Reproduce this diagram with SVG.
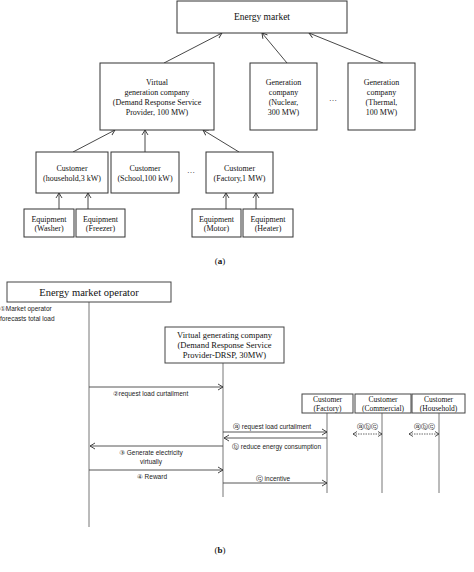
<svg xmlns="http://www.w3.org/2000/svg" width="474" height="572" viewBox="0 0 474 572">
<style>
.box{fill:#fff;stroke:#333;stroke-width:1}
.bx2{fill:#fff;stroke:#444;stroke-width:1}
.s{font-family:"Liberation Serif","DejaVu Serif",serif;fill:#111;text-anchor:middle}
.a{font-size:8px}
.ss{font-family:"Liberation Sans","DejaVu Sans",sans-serif;fill:#222;font-size:6.5px}
.ln{stroke:#333;stroke-width:0.9;fill:none}
.ll{stroke:#777;stroke-width:1;fill:none}
.ar{stroke:#444;stroke-width:0.9;fill:none}
.dsh{stroke:#444;stroke-width:0.8;fill:none;stroke-dasharray:1.5,1}
</style>
<defs>
<marker id="h" markerWidth="8" markerHeight="8" refX="6" refY="4" orient="auto" markerUnits="userSpaceOnUse">
<path d="M1,1 L6,4 L1,7" fill="none" stroke="#333" stroke-width="0.9"/>
</marker>
<marker id="hs" markerWidth="8" markerHeight="8" refX="6" refY="4" orient="auto-start-reverse" markerUnits="userSpaceOnUse">
<path d="M2,1.5 L6,4 L2,6.5" fill="none" stroke="#333" stroke-width="0.8"/>
</marker>
</defs>

<g id="connectors">
<line class="ln" x1="164" y1="63" x2="222" y2="33" marker-end="url(#h)"/>
<line class="ln" x1="287" y1="63" x2="262" y2="33" marker-end="url(#h)"/>
<line class="ln" x1="383" y1="63" x2="309" y2="33" marker-end="url(#h)"/>
<line class="ln" x1="73" y1="152" x2="115" y2="130" marker-end="url(#h)"/>
<line class="ln" x1="145" y1="152" x2="145" y2="130" marker-end="url(#h)"/>
<line class="ln" x1="239" y1="152" x2="203" y2="130" marker-end="url(#h)"/>
<line class="ln" x1="59" y1="209" x2="59" y2="193" marker-end="url(#h)"/>
<line class="ln" x1="88" y1="209" x2="88" y2="193" marker-end="url(#h)"/>
<line class="ln" x1="226" y1="209" x2="226" y2="193" marker-end="url(#h)"/>
<line class="ln" x1="256" y1="209" x2="256" y2="193" marker-end="url(#h)"/>
<line class="ll" x1="89" y1="302" x2="89" y2="527"/>
<line class="ll" x1="223" y1="363" x2="223" y2="497"/>
<line class="ll" x1="327" y1="413" x2="327" y2="493"/>
<line class="ll" x1="382" y1="413" x2="382" y2="493"/>
<line class="ll" x1="439" y1="413" x2="439" y2="493"/>
<line class="ar" x1="89" y1="387" x2="223" y2="387" marker-end="url(#h)"/>
<line class="ar" x1="223" y1="432" x2="327" y2="432" marker-end="url(#h)"/>
<line class="ar" x1="327" y1="438" x2="224" y2="438" marker-end="url(#h)"/>
<line class="ar" x1="223" y1="446" x2="90" y2="446" marker-end="url(#h)"/>
<line class="ar" x1="89" y1="470" x2="223" y2="470" marker-end="url(#h)"/>
<line class="ar" x1="223" y1="483" x2="327" y2="483" marker-end="url(#h)"/>
<line class="dsh" x1="353" y1="434" x2="382" y2="434" marker-start="url(#hs)" marker-end="url(#hs)"/>
<line class="dsh" x1="409" y1="434" x2="439" y2="434" marker-start="url(#hs)" marker-end="url(#hs)"/>
</g>

<g id="energy-market">
<rect class="box" x="177" y="1" width="170" height="32"/>
<text class="s" x="262" y="20" font-size="9.5">Energy market</text>
</g>
<g id="vgc">
<rect class="box" x="100" y="63" width="114" height="67"/>
<text class="s a" x="157" y="85">Virtual</text>
<text class="s a" x="157" y="95">generation company</text>
<text class="s a" x="157" y="105">(Demand Response Service</text>
<text class="s a" x="157" y="115">Provider, 100 MW)</text>
</g>
<g id="gen-nuclear">
<rect class="box" x="250" y="63" width="67" height="67"/>
<text class="s a" x="283.5" y="85">Generation</text>
<text class="s a" x="283.5" y="95">company</text>
<text class="s a" x="283.5" y="105">(Nuclear,</text>
<text class="s a" x="283.5" y="115">300 MW)</text>
</g>
<text class="s a" x="333" y="101" fill="#555">…</text>
<g id="gen-thermal">
<rect class="box" x="348" y="63" width="67" height="67"/>
<text class="s a" x="381.5" y="85">Generation</text>
<text class="s a" x="381.5" y="95">company</text>
<text class="s a" x="381.5" y="105">(Thermal,</text>
<text class="s a" x="381.5" y="115">100 MW)</text>
</g>
<g id="cust-household">
<rect class="box" x="36" y="152" width="72" height="41"/>
<text class="s a" x="72" y="171">Customer</text>
<text class="s a" x="72" y="181">(household,3 kW)</text>
</g>
<g id="cust-school">
<rect class="box" x="111" y="152" width="68" height="41"/>
<text class="s a" x="145" y="171">Customer</text>
<text class="s a" x="145" y="181">(School,100 kW)</text>
</g>
<text class="s a" x="191" y="173" fill="#555">…</text>
<g id="cust-factory">
<rect class="box" x="206" y="152" width="67" height="41"/>
<text class="s a" x="239.5" y="171">Customer</text>
<text class="s a" x="239.5" y="181">(Factory,1 MW)</text>
</g>
<g id="eq-washer">
<rect class="box" x="24" y="209" width="50" height="28"/>
<text class="s a" x="49" y="222">Equipment</text>
<text class="s a" x="49" y="231">(Washer)</text>
</g>
<g id="eq-freezer">
<rect class="box" x="76" y="209" width="49" height="28"/>
<text class="s a" x="100.5" y="222">Equipment</text>
<text class="s a" x="100.5" y="231">(Freezer)</text>
</g>
<g id="eq-motor">
<rect class="box" x="192" y="209" width="49" height="28"/>
<text class="s a" x="216.5" y="222">Equipment</text>
<text class="s a" x="216.5" y="231">(Motor)</text>
</g>
<g id="eq-heater">
<rect class="box" x="243" y="209" width="50" height="28"/>
<text class="s a" x="268" y="222">Equipment</text>
<text class="s a" x="268" y="231">(Heater)</text>
</g>
<text class="s" x="220" y="264" font-size="9">(<tspan font-weight="bold">a</tspan>)</text>

<g id="emo">
<rect class="bx2" x="7" y="282" width="164" height="20"/>
<text class="s" x="89" y="296" font-size="10.5">Energy market operator</text>
</g>
<text class="ss" x="0" y="311">①Market operator</text>
<text class="ss" x="0" y="321">forecasts total load</text>
<g id="vgc-b">
<rect class="bx2" x="165" y="327" width="119" height="36"/>
<text class="s" x="224.5" y="338" font-size="8.5">Virtual generating company</text>
<text class="s" x="224.5" y="348" font-size="8.5">(Demand Response Service</text>
<text class="s" x="224.5" y="358" font-size="8.5">Provider-DRSP, 30MW)</text>
</g>
<g id="c-factory">
<rect class="bx2" x="302" y="394" width="51" height="19"/>
<text class="s" x="327.5" y="402" font-size="7.5">Customer</text>
<text class="s" x="327.5" y="411" font-size="7.5">(Factory)</text>
</g>
<g id="c-commercial">
<rect class="bx2" x="355" y="394" width="56" height="19"/>
<text class="s" x="383" y="402" font-size="7.5">Customer</text>
<text class="s" x="383" y="411" font-size="7.5">(Commercial)</text>
</g>
<g id="c-household">
<rect class="bx2" x="412" y="394" width="53" height="19"/>
<text class="s" x="438.5" y="402" font-size="7.5">Customer</text>
<text class="s" x="438.5" y="411" font-size="7.5">(Household)</text>
</g>
<text class="ss" x="113" y="396">②request load curtailment</text>
<text class="ss" x="233" y="429">ⓐ request load curtailment</text>
<text class="ss" x="232" y="449">ⓑ reduce energy consumption</text>
<text class="ss" x="151" y="455" text-anchor="middle">③ Generate electricity</text>
<text class="ss" x="151" y="464" text-anchor="middle">virtually</text>
<text class="ss" x="152" y="479" text-anchor="middle">④ Reward</text>
<text class="ss" x="273" y="481" text-anchor="middle">ⓒ incentive</text>
<text class="ss" x="367" y="429" text-anchor="middle">ⓐⓑⓒ</text>
<text class="ss" x="424" y="429" text-anchor="middle">ⓐⓑⓒ</text>
<text class="s" x="220" y="553" font-size="9">(<tspan font-weight="bold">b</tspan>)</text>
</svg>
